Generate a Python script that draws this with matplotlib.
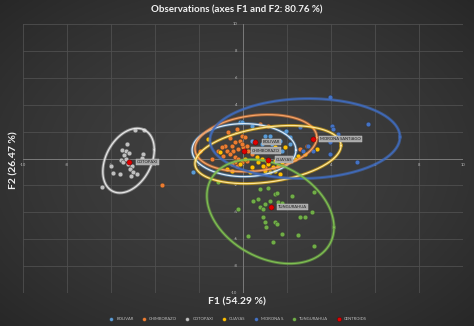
import numpy as np
import matplotlib
matplotlib.use("Agg")
import matplotlib.pyplot as plt

plt.rcParams["font.family"] = ["Lato", "DejaVu Sans"]

# GROUP NAMES AND COLOURS
groups = ["BOLIVAR", "CHIMBORAZO", "COTOPAXI", "GUAYAS", "MORONA S.", "TUNGURAHUA"]
colors = ["#5B9BD5", "#ED7D31", "#BFBFBF", "#FFC000", "#4472C4", "#70AD47"]
ellipse_colors = ["#DDEBF7", "#F4A468", "#E6E6E6", "#FFE699", "#3F6BBE", "#7FBF52"]

# OBSERVATION SCORES (F1, F2)
bolivar_x = [-0.14, 1.0, 1.30, 1.68, 1.91, 2.14, 1.76, -2.26, 0.85, 0.40, 1.08, -0.06, 0.40, 1.98, 2.14, 1.23]
bolivar_y = [2.70, 1.71, 1.09, 1.34, 1.96, 1.58, 0.59, -1.02, 1.09, 1.34, 0.59, 2.70, 2.45, 2.08, 1.09, 1.71]

chimborazo_x = [-0.67, -0.29, -0.06, 0.09, -0.14, -0.36, -0.51, -0.82, -0.97, -1.12, -0.74,
                -0.44, -0.21, 0.02, 0.17, 0.24, -0.59, -0.89, -0.36, -0.21, -0.06, -0.36,
                -0.51, -0.29, 0.17, 0.40, 1.15, 0.77, -1.42, -1.95, 2.59, 2.91, -3.67,
                0.40, 1.0, -0.05, -0.6]
chimborazo_y = [1.96, 2.21, 1.71, 1.58, 1.34, 1.21, 0.97, 0.97, 0.84, 0.59, 0.59, 0.59, 0.72,
                0.84, 0.97, 0.59, 0.35, 0.22, 0.10, -0.02, -0.27, -0.27, -0.40, -0.52, -0.15,
                0.35, 2.45, 2.58, -0.02, 0.59, 0.74, 0.97, -1.96, -0.89, -0.65, 1.1, 1.5]

cotopaxi_x = [-5.26, -5.49, -5.33, -5.17, -5.40, -5.56, -5.44, -5.21, -5.06, -4.56, -4.60,
              -5.14, -5.01, -5.89, -5.59, -5.09, -4.80, -6.01, -6.42, -4.91, -4.50, -5.30]
cotopaxi_y = [1.09, 0.64, 0.54, 0.42, 0.27, -0.07, -0.27, -0.40, -0.52, 0.35, 0.05, -0.77,
              -0.97, -1.09, -1.14, -1.26, -1.14, -0.52, -2.13, 2.13, 2.13, 0.0]

guayas_x = [0.62, 0.85, 1.08, 0.70, 0.92, 1.15, 1.38, 1.61, 1.45, 1.76, 1.0, 1.23, 1.45, 0.40,
            0.32, 0.09, 2.51, 2.82, 2.36, 1.91, 1.45, -1.58, -1.05, -0.74, -0.51, -0.14, 1.68,
            3.35, 2.06]
guayas_y = [0.10, -0.02, -0.15, -0.27, -0.52, -0.40, -0.65, -0.52, -0.15, -0.27, -0.89, -1.02,
            -0.89, -0.65, -1.02, -0.02, 0.22, 0.35, -0.02, 0.84, 0.84, 1.46, 0.47, -0.77, -0.89,
            -0.40, -1.14, 0.72, -0.27]

morona_x = [3.95, 5.70, 4.03, 4.11, 4.33, 3.95, 2.59, 3.95, 5.17, 2.97, 2.74, 3.20]
morona_y = [4.56, 2.58, 2.45, 2.21, 1.83, 1.21, 2.33, 0.35, -0.27, 0.97, 0.59, 0.59]

tungurahua_x = [0.77, 1.15, 1.45, 1.56, 2.21, 3.23, 0.47, 0.70, 1.0, 1.23, 1.61, 1.76, 0.77,
                0.92, 3.12, 2.82, 2.59, 0.92, 1.0, 1.05, 1.45, 1.56, 0.24, 1.76, 2.51, 1.35,
                3.23, -0.21, -1.12]
tungurahua_y = [-2.26, -2.18, -2.63, -2.55, -2.75, -2.50, -3.12, -3.0, -3.37, -3.12, -3.25,
                -3.32, -3.57, -3.74, -3.99, -4.36, -4.36, -4.31, -4.74, -5.11, -4.74, -4.86,
                -5.72, -5.60, -5.65, -6.22, -6.47, -3.74, -1.76]

obs_x = [bolivar_x, chimborazo_x, cotopaxi_x, guayas_x, morona_x, tungurahua_x]
obs_y = [bolivar_y, chimborazo_y, cotopaxi_y, guayas_y, morona_y, tungurahua_y]

# CENTROIDS
centroid_names = ["BOLIVAR", "CHIMBORAZO", "COTOPAXI", "GUAYAS", "MORONA SANTIAGO", "TUNGURAHUA"]
centroid_x = [0.55, 0.06, -5.18, 1.15, 3.17, 1.26]
centroid_y = [1.21, 0.60, -0.22, -0.07, 1.46, -3.57]

# CONFIDENCE ELLIPSES: centre, spread in F1, spread in F2, covariance
ell_cx = [0.05, 0.59, -5.20, 1.14, 2.82, 1.25]
ell_cy = [0.63, 1.15, -0.15, 0.30, 1.49, -3.94]
ell_sx = [2.36, 2.77, 1.17, 3.32, 4.32, 2.89]
ell_sy = [1.97, 2.12, 2.40, 2.16, 2.97, 3.87]
ell_sxy = [0.0, 1.16, 0.95, 2.22, 0.5, -3.4]

ticks = list(range(-10, 11, 2))


def ellipse_path(cx, cy, sx, sy, sxy):
    t = np.linspace(0, 2 * np.pi, 200)
    l21 = sxy / sx
    l22 = np.sqrt(sy ** 2 - l21 ** 2)
    x = cx + sx * np.cos(t)
    y = cy + l21 * np.cos(t) + l22 * np.sin(t)
    return x, y


def background(fig):
    # dark vignette, lighter in the middle
    bg = fig.add_axes([0, 0, 1, 1], zorder=-10)
    yy, xx = np.mgrid[-1:1:200j, -1:1:300j]
    r = np.sqrt(xx ** 2 + yy ** 2) / np.sqrt(2)
    level = 0.255 - 0.10 * r ** 1.5
    img = np.dstack([level, level, level])
    bg.imshow(img, aspect="auto", extent=[0, 1, 0, 1])
    bg.axis("off")


def main():
    fig = plt.figure(figsize=(4.74, 3.26), dpi=100)
    background(fig)

    ax = fig.add_axes([0.0485, 0.101, 0.928, 0.825])
    ax.set_facecolor("none")
    ax.set_xlim(-10, 10)
    ax.set_ylim(-10, 10)

    # grid and zero axes
    for v in ticks:
        ax.axvline(v, color="#4f4f4f", lw=0.6, zorder=0)
        ax.axhline(v, color="#4f4f4f", lw=0.6, zorder=0)
    ax.axvline(0, color="#7a7a7a", lw=0.7, zorder=0)
    ax.axhline(0, color="#7a7a7a", lw=0.7, zorder=0)
    for s in ax.spines.values():
        s.set_visible(False)
    ax.set_xticks([])
    ax.set_yticks([])
    for v in ticks:
        ax.text(v, -0.3, str(v), color="#bdbdbd", fontsize=3, ha="center", va="top")
        ax.text(-0.25, v, str(v), color="#bdbdbd", fontsize=3, ha="right", va="center")

    # observations
    for i, name in enumerate(groups):
        ax.scatter(obs_x[i], obs_y[i], s=12, color=colors[i], edgecolors="#2a2a2a",
                   linewidths=0.25, zorder=3, label=name)

    # ellipses with a soft glow
    for i in range(len(groups)):
        ex, ey = ellipse_path(ell_cx[i], ell_cy[i], ell_sx[i], ell_sy[i], ell_sxy[i])
        ax.plot(ex, ey, color=colors[i], lw=2.2, alpha=0.55, zorder=4)
        ax.plot(ex, ey, color=ellipse_colors[i], lw=0.9, zorder=4)

    # centroids
    ax.scatter(centroid_x, centroid_y, s=14, color="#E00000", edgecolors="#600000",
               linewidths=0.3, zorder=6, label="CENTROIDS")
    for x, y, name in zip(centroid_x, centroid_y, centroid_names):
        ax.text(x + 0.35, y, name, fontsize=3, color="#202020", va="center", zorder=7,
                bbox=dict(boxstyle="square,pad=0.25", fc="#a6a6a6", ec="#d0d0d0", lw=0.3))

    fig.text(0.5, 0.968, "Observations (axes F1 and F2: 80.76 %)", ha="center", va="center",
             fontsize=7, fontweight="bold", color="#f2f2f2")
    fig.text(0.5, 0.073, "F1 (54.29 %)", ha="center", va="center",
             fontsize=7.5, fontweight="bold", color="#f2f2f2")
    fig.text(0.03, 0.51, "F2 (26.47 %)", ha="center", va="center", rotation=90,
             fontsize=7.5, fontweight="bold", color="#f2f2f2")

    handles, labels = ax.get_legend_handles_labels()
    leg = fig.legend(handles, labels, loc="center", bbox_to_anchor=(0.5, 0.022), ncol=7,
                     fontsize=3, frameon=False, handletextpad=0.2, columnspacing=1.5,
                     markerscale=0.8)
    for t in leg.get_texts():
        t.set_color("#bdbdbd")

    fig.savefig("out.png", dpi=100)
    plt.close(fig)


if __name__ == "__main__":
    main()
